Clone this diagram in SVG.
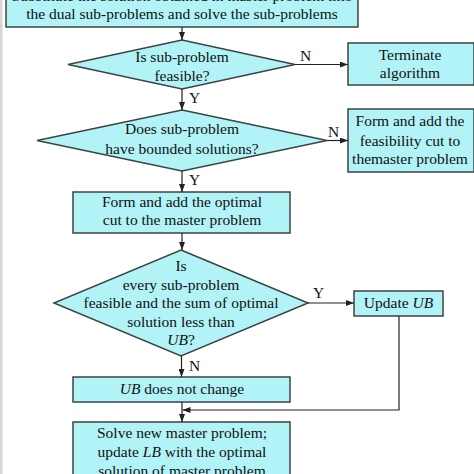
<svg xmlns="http://www.w3.org/2000/svg" width="474" height="474" viewBox="0 0 474 474">
<defs>
<marker id="ah" viewBox="0 0 8 6" refX="8" refY="3" markerWidth="8" markerHeight="6" markerUnits="userSpaceOnUse" orient="auto">
<path d="M0,0 L8,3 L0,6 z" fill="#222"/>
</marker>
<style>
.n{fill:#b2f3f7;stroke:#3a4444;stroke-width:1.5}
.t{font-family:"Liberation Serif","Times New Roman",serif;font-size:15.5px;fill:#111;text-anchor:middle}
.l{font-family:"Liberation Serif","Times New Roman",serif;font-size:15.5px;fill:#111}
.c{fill:none;stroke:#222;stroke-width:1.2}
</style>
</defs>
<rect x="0" y="0" width="474" height="474" fill="#fff"/>
<rect x="0" y="0" width="2.5" height="474" fill="#d6d6d6"/>
<g id="start">
<rect class="n" x="6" y="-20" width="352" height="47"/>
<text class="t" x="182" y="1">Substitute the solution obtained in master problem into</text>
<text class="t" x="182" y="19">the dual sub-problems and solve the sub-problems</text>
</g>
<g id="feasible">
<polygon class="n" points="182,40 295,64.5 182,89 68,64.5"/>
<text class="t" x="182" y="62">Is sub-problem</text>
<text class="t" x="182" y="81">feasible?</text>
</g>
<g id="terminate">
<rect class="n" x="348" y="43" width="126" height="42"/>
<text class="t" x="410" y="60">Terminate</text>
<text class="t" x="410" y="78">algorithm</text>
</g>
<g id="bounded">
<polygon class="n" points="182,110 327,140.5 182,171 37,140.5"/>
<text class="t" x="182" y="134">Does sub-problem</text>
<text class="t" x="182" y="154">have bounded solutions?</text>
</g>
<g id="feascut">
<rect class="n" x="348" y="109" width="126" height="63"/>
<text class="t" x="410" y="126">Form and add the</text>
<text class="t" x="410" y="146">feasibility cut to</text>
<text class="t" x="410" y="164">themaster problem</text>
</g>
<g id="optcut">
<rect class="n" x="73" y="192" width="217" height="41"/>
<text class="t" x="182" y="207">Form and add the optimal</text>
<text class="t" x="182" y="225">cut to the master problem</text>
</g>
<g id="every">
<polygon class="n" points="181,250 308,303 181,356 54,303"/>
<text class="t" x="181" y="271">Is</text>
<text class="t" x="181" y="290">every sub-problem</text>
<text class="t" x="181" y="308">feasible and the sum of optimal</text>
<text class="t" x="181" y="327">solution less than</text>
<text class="t" x="181" y="345"><tspan font-style="italic">UB</tspan>?</text>
</g>
<g id="updateub">
<rect class="n" x="354" y="291" width="89" height="25"/>
<text class="t" x="398.5" y="308">Update <tspan font-style="italic">UB</tspan></text>
</g>
<g id="nochange">
<rect class="n" x="73" y="377" width="217" height="25"/>
<text class="t" x="182" y="394"><tspan font-style="italic">UB</tspan> does not change</text>
</g>
<g id="solve">
<rect class="n" x="73" y="422" width="217" height="70"/>
<text class="t" x="182" y="438">Solve new master problem;</text>
<text class="t" x="182" y="457">update <tspan font-style="italic">LB</tspan> with the optimal</text>
<text class="t" x="182" y="476">solution of master problem</text>
</g>
<g id="connectors">
<path class="c" d="M182,27 V40" marker-end="url(#ah)"/>
<path class="c" d="M295,64.5 H348" marker-end="url(#ah)"/>
<path class="c" d="M182,89 V110" marker-end="url(#ah)"/>
<path class="c" d="M327,140.5 H348" marker-end="url(#ah)"/>
<path class="c" d="M182,171 V192" marker-end="url(#ah)"/>
<path class="c" d="M182,233 V250" marker-end="url(#ah)"/>
<path class="c" d="M308,303 H354" marker-end="url(#ah)"/>
<path class="c" d="M181.5,356 V377" marker-end="url(#ah)"/>
<path class="c" d="M399,316 V410 H182.5" marker-end="url(#ah)"/>
<path class="c" d="M182,402 V422" marker-end="url(#ah)"/>
<text class="l" x="300" y="61">N</text>
<text class="l" x="189" y="103">Y</text>
<text class="l" x="328" y="137">N</text>
<text class="l" x="189" y="185">Y</text>
<text class="l" x="313" y="298">Y</text>
<text class="l" x="189" y="371">N</text>
</g>
</svg>
